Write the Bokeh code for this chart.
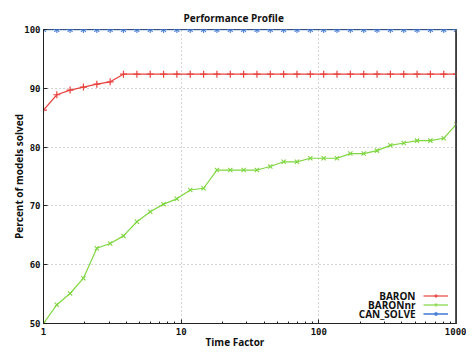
from bokeh.plotting import figure
from bokeh.models import (Range1d, FixedTicker, NumeralTickFormatter, Span, Label,
                          Legend, LegendItem, Title)
from bokeh.embed import file_html
from bokeh.resources import INLINE

# ---- data ----
time_factor = [1, 1.25, 1.56, 1.95, 2.44, 3.05, 3.81, 4.77, 5.96, 7.45, 9.31, 11.64,
               14.55, 18.19, 22.74, 28.42, 35.53, 44.41, 55.51, 69.39, 86.74, 108.4,
               135.5, 169.4, 211.8, 264.7, 330.9, 413.6, 517.0, 646.3, 807.8, 1000]
baron = [86.3, 88.9, 89.7, 90.2, 90.7, 91.1, 92.4, 92.4, 92.4, 92.4, 92.4, 92.4,
         92.4, 92.4, 92.4, 92.4, 92.4, 92.4, 92.4, 92.4, 92.4, 92.4, 92.4, 92.4,
         92.4, 92.4, 92.4, 92.4, 92.4, 92.4, 92.4, 92.4]
baron_nr = [50, 53.2, 55.1, 57.7, 62.8, 63.6, 64.9, 67.3, 69.0, 70.3, 71.2, 72.7,
            73.0, 76.1, 76.1, 76.1, 76.1, 76.7, 77.5, 77.5, 78.1, 78.1, 78.1, 78.9,
            78.9, 79.4, 80.3, 80.7, 81.1, 81.1, 81.5, 83.9]
can_solve = [100] * 32
series_names = ["BARON", "BARONnr", "CAN_SOLVE"]
x_ticks = [1, 10, 100, 1000]
x_minor = [2, 3, 4, 5, 6, 7, 8, 9, 20, 30, 40, 50, 60, 70, 80, 90,
           200, 300, 400, 500, 600, 700, 800, 900]
y_ticks = [50, 60, 70, 80, 90, 100]

RED = "#e8413c"
GREEN = "#7fd640"
BLUE = "#4a80d8"
FONT = "Open Sans"

p = figure(width=466, height=347, x_axis_type="log", output_backend="svg",
           toolbar_location=None, x_range=Range1d(1, 1000), y_range=Range1d(50, 100),
           min_border_left=43, min_border_right=10, min_border_top=29,
           min_border_bottom=23)
p.background_fill_color = "white"
p.border_fill_color = "white"
p.outline_line_color = "#222222"

p.title.text = "Performance Profile"
p.title.align = "left"
p.title.offset = 140
p.title.text_font = FONT
p.title.text_font_style = "bold"
p.title.text_font_size = "10px"
p.title.text_color = "#111111"

tick_font = "DejaVu Sans Mono"

xa = p.xaxis[0]
xa.ticker = FixedTicker(ticks=x_ticks, minor_ticks=x_minor)
xa.formatter = NumeralTickFormatter(format="0")
ya = p.yaxis[0]
ya.ticker = FixedTicker(ticks=y_ticks)
for ax in (xa, ya):
    ax.axis_line_color = "#222222"
    ax.major_tick_in = 4
    ax.major_tick_out = 0
    ax.minor_tick_in = 2
    ax.minor_tick_out = 0
    ax.major_tick_line_color = "#222222"
    ax.minor_tick_line_color = "#222222"
    ax.major_label_text_font = tick_font
    ax.major_label_text_font_style = "bold"
    ax.major_label_text_font_size = "9px"
    ax.major_label_text_color = "#111111"
xa.major_label_standoff = 4
ya.major_label_standoff = 3

ya.axis_label = "Percent of models solved"
ya.axis_label_text_font = FONT
ya.axis_label_text_font_style = "bold"
ya.axis_label_text_font_size = "10px"
ya.axis_label_standoff = -5
ya.axis_label_text_color = "#111111"

# thick right border
p.add_layout(Span(location=1000, dimension="height", line_color="#555555", line_width=3))

xtitle = Title(text="Time Factor", align="left", offset=162, standoff=-6,
               vertical_align="top",
               text_font=FONT, text_font_style="bold", text_font_size="10px",
               text_color="#111111")
p.add_layout(xtitle, "below")

p.xgrid.ticker = FixedTicker(ticks=x_ticks)
p.ygrid.ticker = FixedTicker(ticks=y_ticks)
for g in (p.xgrid[0], p.ygrid[0]):
    g.grid_line_color = "#aaaaaa"
    g.grid_line_dash = "1 3"
    g.grid_line_width = 1

r1l = p.line(time_factor, baron, line_color=RED, line_width=1.2)
r1m = p.scatter(time_factor, baron, marker="cross", size=7, line_color=RED, line_width=1.2)
r2l = p.line(time_factor, baron_nr, line_color=GREEN, line_width=1.2)
r2m = p.scatter(time_factor, baron_nr, marker="x", size=6, line_color=GREEN, line_width=1.1)
r3l = p.line(time_factor, can_solve, line_color=BLUE, line_width=1.6)
r3m = p.scatter(time_factor, can_solve, marker="asterisk", size=7, line_color=BLUE, line_width=1.1)

# legend samples (gnuplot style: text right-aligned to the left of the sample)
legend = Legend(items=[LegendItem(label=" ", renderers=[r1l, r1m]),
                       LegendItem(label=" ", renderers=[r2l, r2m]),
                       LegendItem(label=" ", renderers=[r3l, r3m])],
                location=(378, 3), background_fill_alpha=0,
                border_line_alpha=0, label_text_font_size="4px",
                label_height=9, glyph_height=9, glyph_width=25, spacing=0,
                padding=2, margin=0, label_standoff=0, label_width=1)
p.add_layout(legend)
for i, name in enumerate(series_names):
    p.add_layout(Label(x=372, y=28 - 9 * i, x_units="screen", y_units="screen",
                       text=name, text_align="right", text_baseline="middle",
                       text_font=FONT, text_font_style="bold", text_font_size="10px",
                       text_color="#111111"))

open("out.html", "w").write(file_html(p, INLINE))
